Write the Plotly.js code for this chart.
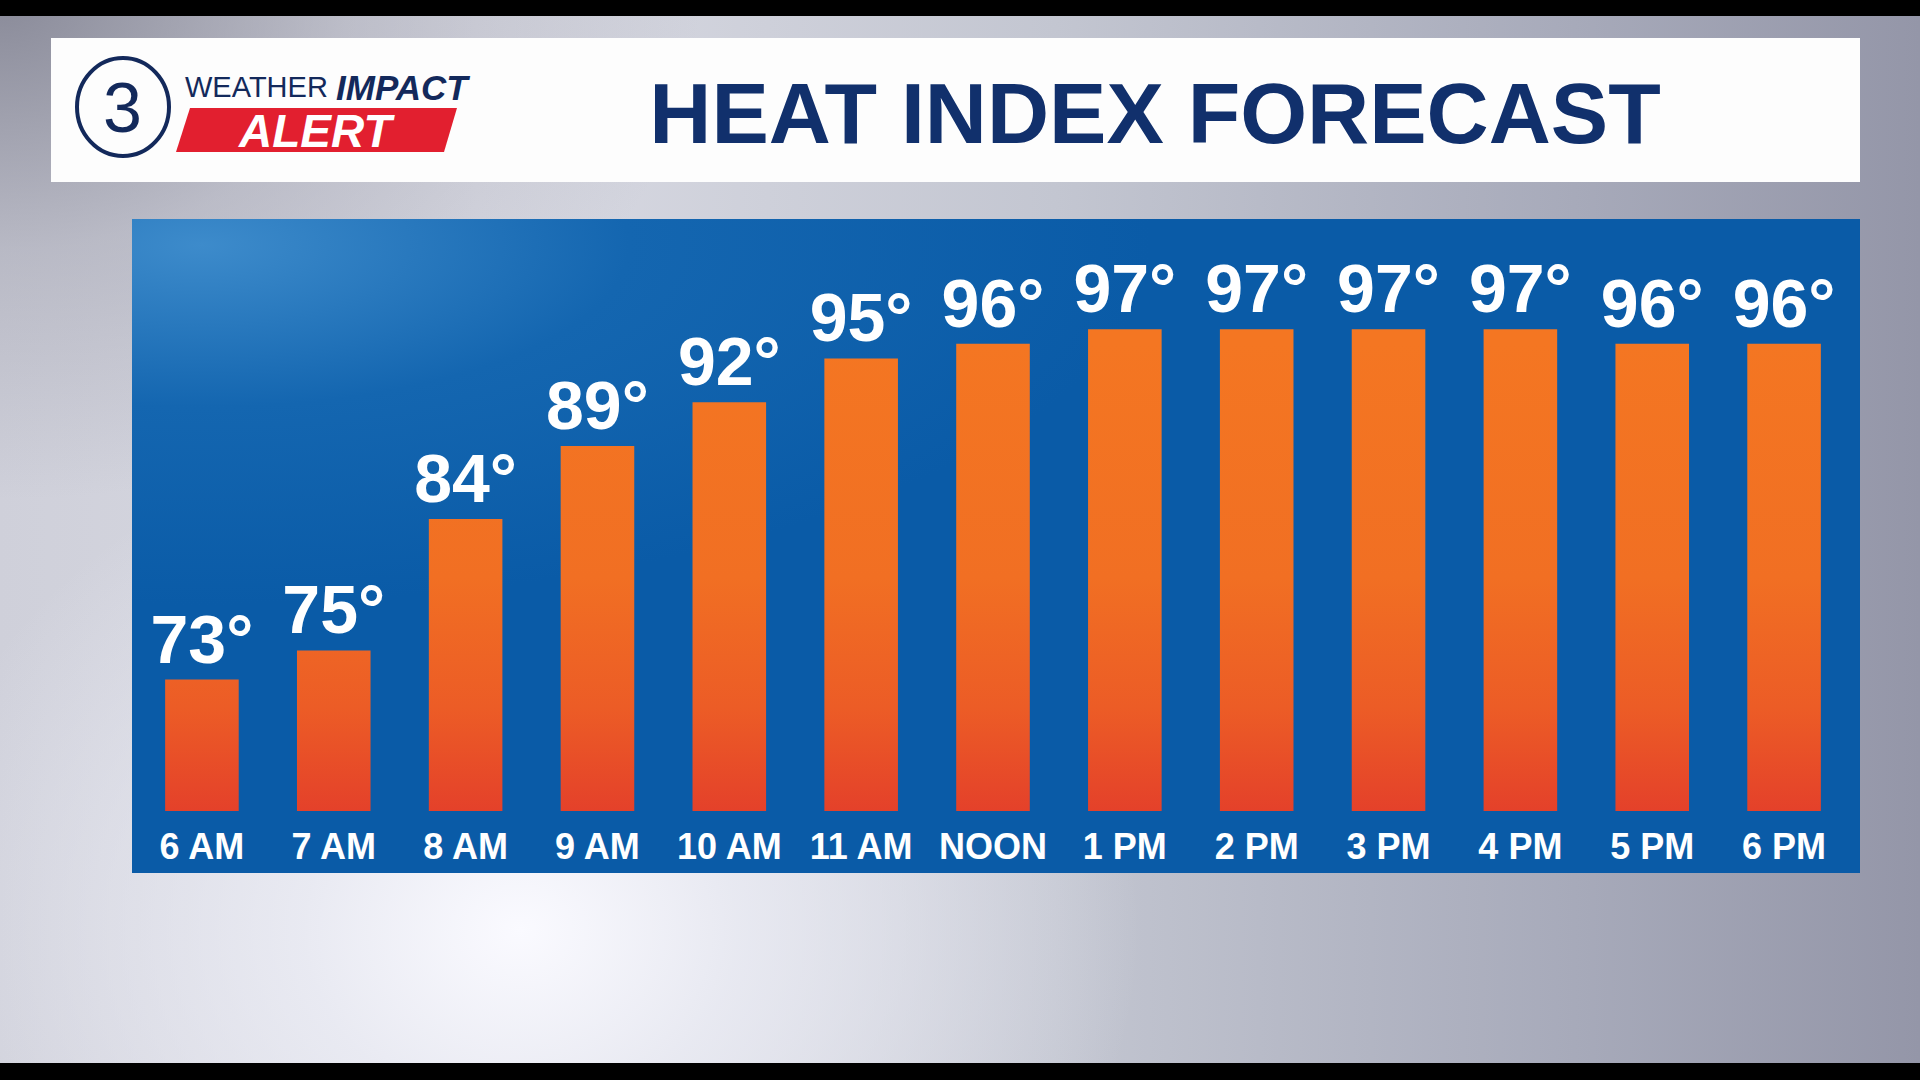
<!DOCTYPE html>
<html>
<head>
<meta charset="utf-8">
<script src="https://cdn.plot.ly/plotly-3.0.1.min.js"></script>
<style>
html,body{margin:0;padding:0;width:1920px;height:1080px;overflow:hidden;}
body{
  background:
    radial-gradient(ellipse 620px 520px at 520px 930px, rgba(250,250,255,1) 0%, rgba(236,237,245,0.85) 35%, rgba(225,226,235,0) 100%),
    radial-gradient(ellipse 700px 500px at 0px 0px, rgba(130,131,146,0.9) 0%, rgba(150,151,165,0.4) 50%, rgba(150,151,165,0) 100%),
    linear-gradient(90deg, #cfd0da 0%, #d9dae3 25%, #c3c6d1 55%, #a7aaba 82%, #9496a8 100%);
}
#chart{width:1920px;height:1080px;}
#grads{position:absolute;width:0;height:0;overflow:hidden;}
#chart .barlayer .point path{fill:url(#barGrad) !important;}
#chart .shapelayer path[data-index="3"]{fill:url(#panelGrad) !important;}
</style>
</head>
<body>
<!-- bar gradient in the plot area's own coordinates (plot top = 0, bar base = 592) -->
<svg id="grads" xmlns="http://www.w3.org/2000/svg" width="0" height="0">
  <defs>
    <linearGradient id="barGrad" gradientUnits="userSpaceOnUse" x1="0" y1="125" x2="0" y2="592">
      <stop offset="0" stop-color="#f47622"/>
      <stop offset="0.5" stop-color="#f16f23"/>
      <stop offset="0.78" stop-color="#ec5c26"/>
      <stop offset="1" stop-color="#e4412a"/>
    </linearGradient>
    <radialGradient id="panelGrad" cx="0.04" cy="0.04" r="0.55" fx="0.04" fy="0.04">
      <stop offset="0" stop-color="#3d8bcb"/>
      <stop offset="0.45" stop-color="#1466b0"/>
      <stop offset="1" stop-color="#0a5ba7"/>
    </radialGradient>
  </defs>
</svg>
<div id="chart"></div>
<script>
// ---- data ----
const hours = ['6 AM','7 AM','8 AM','9 AM','10 AM','11 AM','NOON','1 PM','2 PM','3 PM','4 PM','5 PM','6 PM'];
const heatIndex = [73, 75, 84, 89, 92, 95, 96, 97, 97, 97, 97, 96, 96];
const chartTitle = 'HEAT INDEX FORECAST';
const brandWord1 = 'WEATHER';
const brandWord2 = 'IMPACT';
const brandAlert = 'ALERT';
const channel = '3';

// ---- helpers (pixel -> paper) ----
const W = 1920, H = 1080;
const px = x => x / W;
const py = y => 1 - y / H;

const navy = '#13295b';
const barBase = '#f06a24';

const trace = {
  type: 'bar',
  x: hours,
  y: heatIndex,
  marker: {color: barBase, line: {width: 0}},
  texttemplate: '%{y}°',
  textposition: 'outside',
  constraintext: 'none',
  textfont: {family: '"Liberation Sans", Arial, sans-serif', size: 68, color: '#ffffff', weight: 700},
  cliponaxis: true,
  hoverinfo: 'skip'
};

const para = [[190,108],[457,108],[444,152],[176,152]]
  .map((p,i) => (i ? 'L' : 'M') + px(p[0]).toFixed(5) + ',' + py(p[1]).toFixed(5)).join(' ') + ' Z';

const layout = {
  width: W, height: H, autosize: false,
  margin: {l: 0, r: 0, t: 0, b: 0, pad: 0},
  paper_bgcolor: 'rgba(0,0,0,0)',
  plot_bgcolor: 'rgba(0,0,0,0)',
  showlegend: false,
  bargap: 0.442,
  title: {
    text: '<b>' + chartTitle + '</b>',
    x: px(1155), xanchor: 'center', xref: 'paper',
    y: py(113), yanchor: 'middle', yref: 'paper',
    font: {family: '"Liberation Sans", Arial, sans-serif', size: 86, color: '#11306c'}
  },
  xaxis: {
    domain: [px(136), px(1850)],
    type: 'category',
    range: [-0.5, 12.5],
    showgrid: false, zeroline: false, showline: false, ticks: '',
    tickfont: {family: '"Liberation Sans", Arial, sans-serif', size: 36, color: '#ffffff', weight: 700},
    ticklabelstandoff: 11,
    automargin: false, fixedrange: true
  },
  yaxis: {
    domain: [py(811), py(219)],
    range: [64, 104.55],
    visible: false, showgrid: false, zeroline: false,
    automargin: false, fixedrange: true
  },
  shapes: [
    {type: 'rect', xref: 'paper', yref: 'paper', x0: 0, x1: 1, y0: py(16), y1: 1, fillcolor: '#000', line: {width: 0}, layer: 'below'},
    {type: 'rect', xref: 'paper', yref: 'paper', x0: 0, x1: 1, y0: 0, y1: py(1063), fillcolor: '#000', line: {width: 0}, layer: 'below'},
    {type: 'rect', xref: 'paper', yref: 'paper', x0: px(51), x1: px(1860), y0: py(182), y1: py(38), fillcolor: '#fdfdfd', line: {width: 0}, layer: 'below'},
    {type: 'rect', xref: 'paper', yref: 'paper', x0: px(132), x1: px(1860), y0: py(873), y1: py(219), fillcolor: '#0b5ca8', line: {width: 0}, layer: 'below'},
    {type: 'circle', xref: 'paper', yref: 'paper', x0: px(77), x1: px(169), y0: py(156), y1: py(58), fillcolor: 'rgba(0,0,0,0)', line: {color: navy, width: 4}},
    {type: 'path', xref: 'paper', yref: 'paper', path: para, fillcolor: '#e21f2f', line: {width: 0}}
  ],
  annotations: [
    {xref: 'paper', yref: 'paper', x: px(123), y: py(108), xanchor: 'center', yanchor: 'middle', showarrow: false,
     text: channel, font: {family: '"Liberation Sans", Arial, sans-serif', size: 70, color: navy}},
    {xref: 'paper', yref: 'paper', x: px(183), y: py(87), xanchor: 'left', yanchor: 'middle', showarrow: false,
     text: brandWord1, font: {family: '"Liberation Sans", Arial, sans-serif', size: 29, color: navy}},
    {xref: 'paper', yref: 'paper', x: px(334), y: py(87), xanchor: 'left', yanchor: 'middle', showarrow: false,
     text: '<b><i>' + brandWord2 + '</i></b>', font: {family: '"Liberation Sans", Arial, sans-serif', size: 35, color: navy}},
    {xref: 'paper', yref: 'paper', x: px(316), y: py(131), xanchor: 'center', yanchor: 'middle', showarrow: false,
     text: '<b><i>' + brandAlert + '</i></b>', font: {family: '"Liberation Sans", Arial, sans-serif', size: 46, color: '#ffffff'}}
  ]
};

const gd = document.getElementById('chart');
Plotly.newPlot(gd, [trace], layout, {displayModeBar: false, staticPlot: true});
</script>
</body>
</html>
